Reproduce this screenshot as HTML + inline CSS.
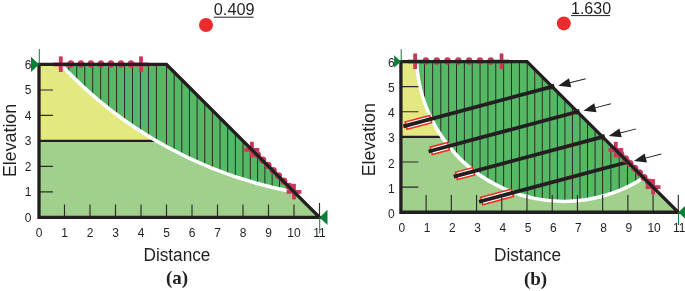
<!DOCTYPE html>
<html><head><meta charset="utf-8"><title>Slope stability</title>
<style>html,body{margin:0;padding:0;background:#fff}svg{display:block}text{font-family:"Liberation Sans",sans-serif;fill:#231f20}</style>
</head><body>
<svg width="685" height="291" viewBox="0 0 685 291">
<rect width="685" height="291" fill="#fff"/>
<g>
<polygon points="39.00,217.40 39.00,64.46 166.50,64.46 319.50,217.40" fill="#a0d08c"/>
<polygon points="39.00,140.93 39.00,64.46 166.50,64.46 243.00,140.93" fill="#e3e880"/>
<line x1="39.00" y1="140.93" x2="243.00" y2="140.93" stroke="#231f20" stroke-width="2.2"/>
<path d="M60.80,64.46 L166.50,64.46 L294.00,191.91 A422.8 422.8 0 0 1 60.80,64.46 Z" fill="#54b864"/>
<clipPath id="ca"><path d="M60.80,64.46 L166.50,64.46 L294.00,191.91 A422.8 422.8 0 0 1 60.80,64.46 Z"/></clipPath>
<path d="M68.81,62.5V217.4M76.78,62.5V217.4M84.74,62.5V217.4M92.70,62.5V217.4M100.66,62.5V217.4M108.62,62.5V217.4M116.59,62.5V217.4M124.55,62.5V217.4M132.51,62.5V217.4M140.48,62.5V217.4M148.44,62.5V217.4M156.40,62.5V217.4M166.50,62.5V217.4M174.15,62.5V217.4M181.80,62.5V217.4M189.45,62.5V217.4M197.10,62.5V217.4M204.75,62.5V217.4M212.40,62.5V217.4M220.05,62.5V217.4M227.70,62.5V217.4M235.35,62.5V217.4M243.00,62.5V217.4M250.29,62.5V217.4M257.57,62.5V217.4M264.86,62.5V217.4M272.14,62.5V217.4M279.43,62.5V217.4M286.71,62.5V217.4M294.00,62.5V217.4" stroke="#2b2b2b" stroke-width="1" fill="none" clip-path="url(#ca)"/>
<path d="M294.00,191.91 A422.8 422.8 0 0 1 60.80,64.46" stroke="#fff" stroke-width="3.5" fill="none"/>
<rect x="58.90" y="56.36" width="3.8" height="15.6" fill="#cd3659"/><rect x="53.40" y="62.56" width="14.8" height="3.8" fill="#cd3659"/>
<ellipse cx="70.83" cy="63.96" rx="3.4" ry="3.8" fill="#cd3659"/>
<ellipse cx="80.85" cy="63.96" rx="3.4" ry="3.8" fill="#cd3659"/>
<ellipse cx="90.88" cy="63.96" rx="3.4" ry="3.8" fill="#cd3659"/>
<ellipse cx="100.90" cy="63.96" rx="3.4" ry="3.8" fill="#cd3659"/>
<ellipse cx="110.93" cy="63.96" rx="3.4" ry="3.8" fill="#cd3659"/>
<ellipse cx="120.95" cy="63.96" rx="3.4" ry="3.8" fill="#cd3659"/>
<ellipse cx="130.98" cy="63.96" rx="3.4" ry="3.8" fill="#cd3659"/>
<rect x="139.10" y="56.36" width="3.8" height="15.6" fill="#cd3659"/><rect x="133.60" y="62.56" width="14.8" height="3.8" fill="#cd3659"/>
<rect x="250.02" y="141.75" width="3.8" height="15.6" fill="#cd3659"/><rect x="244.52" y="147.95" width="14.8" height="3.8" fill="#cd3659"/>
<circle cx="257.48" cy="154.81" r="3.6" fill="#cd3659"/>
<circle cx="262.74" cy="160.07" r="3.6" fill="#cd3659"/>
<circle cx="268.00" cy="165.32" r="3.6" fill="#cd3659"/>
<circle cx="273.26" cy="170.58" r="3.6" fill="#cd3659"/>
<circle cx="278.52" cy="175.84" r="3.6" fill="#cd3659"/>
<circle cx="283.78" cy="181.10" r="3.6" fill="#cd3659"/>
<circle cx="289.04" cy="186.35" r="3.6" fill="#cd3659"/>
<rect x="292.10" y="183.81" width="3.8" height="15.6" fill="#cd3659"/><rect x="286.60" y="190.01" width="14.8" height="3.8" fill="#cd3659"/>
<path d="M64.50,217.40v-13M90.00,217.40v-13M115.50,217.40v-13M141.00,217.40v-13M166.50,217.40v-13M192.00,217.40v-13M217.50,217.40v-13M243.00,217.40v-13M268.50,217.40v-13M294.00,217.40v-13M319.50,217.40v-14.5M39.00,191.91h14M39.00,166.42h14M39.00,115.44h14M39.00,89.95h14" stroke="#2b2b2b" stroke-width="1.15" fill="none"/>
<path d="M319.50,217.40 L39.00,217.40 L39.00,64.46 L166.50,64.46 Z" stroke="#231f20" stroke-width="3.3" fill="none" stroke-linejoin="miter"/>
<line x1="39.30" y1="48.96" x2="39.30" y2="64.46" stroke="#0a8037" stroke-width="1"/>
<polygon points="39.00,64.46 31.00,56.86 31.00,72.06" fill="#0a8037"/>
<line x1="319.70" y1="217.40" x2="319.70" y2="233.40" stroke="#0a8037" stroke-width="1"/>
<polygon points="319.50,217.40 327.50,209.80 327.50,225.00" fill="#0a8037"/>
<text x="39.00" y="236.70" font-size="12" text-anchor="middle">0</text>
<text x="64.50" y="236.70" font-size="12" text-anchor="middle">1</text>
<text x="90.00" y="236.70" font-size="12" text-anchor="middle">2</text>
<text x="115.50" y="236.70" font-size="12" text-anchor="middle">3</text>
<text x="141.00" y="236.70" font-size="12" text-anchor="middle">4</text>
<text x="166.50" y="236.70" font-size="12" text-anchor="middle">5</text>
<text x="192.00" y="236.70" font-size="12" text-anchor="middle">6</text>
<text x="217.50" y="236.70" font-size="12" text-anchor="middle">7</text>
<text x="243.00" y="236.70" font-size="12" text-anchor="middle">8</text>
<text x="268.50" y="236.70" font-size="12" text-anchor="middle">9</text>
<text x="294.00" y="236.70" font-size="12" text-anchor="middle">10</text>
<text x="319.50" y="236.70" font-size="12" text-anchor="middle">11</text>
<text x="31.50" y="221.80" font-size="12" text-anchor="end">0</text>
<text x="31.50" y="196.31" font-size="12" text-anchor="end">1</text>
<text x="31.50" y="170.82" font-size="12" text-anchor="end">2</text>
<text x="31.50" y="145.33" font-size="12" text-anchor="end">3</text>
<text x="31.50" y="119.84" font-size="12" text-anchor="end">4</text>
<text x="31.50" y="94.35" font-size="12" text-anchor="end">5</text>
<text x="31.50" y="68.86" font-size="12" text-anchor="end">6</text>
<text x="176.96" y="260.5" font-size="17.6" text-anchor="middle" textLength="67" lengthAdjust="spacingAndGlyphs">Distance</text>
<text transform="translate(16,140.43) rotate(-90)" font-size="17.8" text-anchor="middle">Elevation</text>
<text x="177" y="284" font-size="19" font-weight="bold" text-anchor="middle" style="font-family:'Liberation Serif',serif">(a)</text>
<circle cx="206" cy="25" r="7" fill="#ea2a2d"/>
<text x="213.8" y="14.7" font-size="16.3">0.409</text>
<line x1="213.8" y1="17.2" x2="253.60000000000002" y2="17.2" stroke="#231f20" stroke-width="1"/>
</g>
<g>
<polygon points="400.90,212.25 400.90,61.53 527.00,61.53 678.32,212.25" fill="#a0d08c"/>
<polygon points="400.90,136.89 400.90,61.53 527.00,61.53 602.66,136.89" fill="#e3e880"/>
<line x1="400.90" y1="136.89" x2="602.66" y2="136.89" stroke="#231f20" stroke-width="2.2"/>
<path d="M416.54,61.53 L527.00,61.53 L643.77,177.84 A147.5 147.5 0 0 1 416.54,61.53 Z" fill="#54b864"/>
<clipPath id="cb"><path d="M416.54,61.53 L527.00,61.53 L643.77,177.84 A147.5 147.5 0 0 1 416.54,61.53 Z"/></clipPath>
<path d="M424.53,59.5V212.2M432.67,59.5V212.2M440.80,59.5V212.2M448.65,59.5V212.2M456.51,59.5V212.2M464.36,59.5V212.2M472.22,59.5V212.2M480.07,59.5V212.2M487.93,59.5V212.2M495.78,59.5V212.2M503.64,59.5V212.2M511.49,59.5V212.2M519.35,59.5V212.2M527.20,59.5V212.2M534.74,59.5V212.2M542.28,59.5V212.2M549.82,59.5V212.2M557.36,59.5V212.2M564.90,59.5V212.2M572.44,59.5V212.2M579.98,59.5V212.2M587.52,59.5V212.2M595.06,59.5V212.2M602.60,59.5V212.2M610.88,59.5V212.2M619.16,59.5V212.2M627.44,59.5V212.2M635.72,59.5V212.2M644.00,59.5V212.2" stroke="#2b2b2b" stroke-width="1" fill="none" clip-path="url(#cb)"/>
<path d="M643.77,177.84 A147.5 147.5 0 0 1 416.54,61.53" stroke="#fff" stroke-width="3.5" fill="none"/>
<g transform="translate(406.06,125.66) rotate(-14.94)">
<rect x="0" y="-3.8" width="25.5" height="7.6" fill="#fff" stroke="#ee3124" stroke-width="1.6"/>
<line x1="-2.8" y1="0" x2="151.28" y2="0" stroke="#231f20" stroke-width="3.7"/>
<rect x="149.08" y="-2.3" width="4.4" height="4.6" fill="#231f20"/>
</g>
<g transform="translate(558.22,85.75) rotate(-14.48)">
<line x1="8" y1="0" x2="28.4" y2="0" stroke="#231f20" stroke-width="1"/>
<polygon points="0,0 12.3,-4.6 12.3,4.6" fill="#231f20"/>
</g>
<g transform="translate(431.28,150.78) rotate(-14.94)">
<rect x="0" y="-3.8" width="17.8" height="7.6" fill="#fff" stroke="#ee3124" stroke-width="1.6"/>
<line x1="-2.8" y1="0" x2="151.28" y2="0" stroke="#231f20" stroke-width="3.7"/>
<rect x="149.08" y="-2.3" width="4.4" height="4.6" fill="#231f20"/>
</g>
<g transform="translate(583.44,110.87) rotate(-14.48)">
<line x1="8" y1="0" x2="28.4" y2="0" stroke="#231f20" stroke-width="1"/>
<polygon points="0,0 12.3,-4.6 12.3,4.6" fill="#231f20"/>
</g>
<g transform="translate(456.50,175.90) rotate(-14.94)">
<rect x="0" y="-3.8" width="17.8" height="7.6" fill="#fff" stroke="#ee3124" stroke-width="1.6"/>
<line x1="-2.8" y1="0" x2="151.28" y2="0" stroke="#231f20" stroke-width="3.7"/>
<rect x="149.08" y="-2.3" width="4.4" height="4.6" fill="#231f20"/>
</g>
<g transform="translate(608.66,135.99) rotate(-14.48)">
<line x1="8" y1="0" x2="28.4" y2="0" stroke="#231f20" stroke-width="1"/>
<polygon points="0,0 12.3,-4.6 12.3,4.6" fill="#231f20"/>
</g>
<g transform="translate(481.72,201.02) rotate(-14.94)">
<rect x="0" y="-3.8" width="31.8" height="7.6" fill="#fff" stroke="#ee3124" stroke-width="1.6"/>
<line x1="-2.8" y1="0" x2="151.28" y2="0" stroke="#231f20" stroke-width="3.7"/>
<rect x="149.08" y="-2.3" width="4.4" height="4.6" fill="#231f20"/>
</g>
<g transform="translate(633.88,161.11) rotate(-14.48)">
<line x1="8" y1="0" x2="28.4" y2="0" stroke="#231f20" stroke-width="1"/>
<polygon points="0,0 12.3,-4.6 12.3,4.6" fill="#231f20"/>
</g>
<rect x="413.25" y="53.43" width="3.8" height="15.6" fill="#cd3659"/><rect x="407.75" y="59.63" width="14.8" height="3.8" fill="#cd3659"/>
<ellipse cx="425.95" cy="61.03" rx="3.4" ry="3.8" fill="#cd3659"/>
<ellipse cx="436.74" cy="61.03" rx="3.4" ry="3.8" fill="#cd3659"/>
<ellipse cx="447.54" cy="61.03" rx="3.4" ry="3.8" fill="#cd3659"/>
<ellipse cx="458.34" cy="61.03" rx="3.4" ry="3.8" fill="#cd3659"/>
<ellipse cx="469.14" cy="61.03" rx="3.4" ry="3.8" fill="#cd3659"/>
<ellipse cx="479.93" cy="61.03" rx="3.4" ry="3.8" fill="#cd3659"/>
<ellipse cx="490.73" cy="61.03" rx="3.4" ry="3.8" fill="#cd3659"/>
<rect x="499.63" y="53.43" width="3.8" height="15.6" fill="#cd3659"/><rect x="494.13" y="59.63" width="14.8" height="3.8" fill="#cd3659"/>
<rect x="613.87" y="141.85" width="3.8" height="15.6" fill="#cd3659"/><rect x="608.37" y="148.05" width="14.8" height="3.8" fill="#cd3659"/>
<circle cx="620.74" cy="154.30" r="3.6" fill="#cd3659"/>
<circle cx="625.41" cy="158.95" r="3.6" fill="#cd3659"/>
<circle cx="630.07" cy="163.59" r="3.6" fill="#cd3659"/>
<circle cx="634.74" cy="168.24" r="3.6" fill="#cd3659"/>
<circle cx="639.40" cy="172.89" r="3.6" fill="#cd3659"/>
<circle cx="644.07" cy="177.54" r="3.6" fill="#cd3659"/>
<circle cx="648.73" cy="182.18" r="3.6" fill="#cd3659"/>
<rect x="651.20" y="179.03" width="3.8" height="15.6" fill="#cd3659"/><rect x="645.70" y="185.23" width="14.8" height="3.8" fill="#cd3659"/>
<path d="M426.12,212.25v-17.3M451.34,212.25v-17.3M476.56,212.25v-17.3M501.78,212.25v-17.3M527.00,212.25v-17.3M552.22,212.25v-17.3M577.44,212.25v-17.3M602.66,212.25v-17.3M627.88,212.25v-17.3M653.10,212.25v-17.3M678.32,212.25v-17.5M400.90,187.13h17.5M400.90,162.01h17.5M400.90,111.77h17.5M400.90,86.65h17.5" stroke="#2b2b2b" stroke-width="1.15" fill="none"/>
<path d="M678.32,212.25 L400.90,212.25 L400.90,61.53 L527.00,61.53 Z" stroke="#231f20" stroke-width="3.3" fill="none" stroke-linejoin="miter"/>
<line x1="401.20" y1="49.23" x2="401.20" y2="61.53" stroke="#0a8037" stroke-width="1"/>
<polygon points="400.90,61.53 394.10,55.23 394.10,67.83" fill="#0a8037"/>
<line x1="678.52" y1="212.25" x2="678.52" y2="225.05" stroke="#0a8037" stroke-width="1"/>
<polygon points="678.32,212.25 685.12,205.95 685.12,218.55" fill="#0a8037"/>
<text x="401.90" y="231.55" font-size="12" text-anchor="middle">0</text>
<text x="427.12" y="231.55" font-size="12" text-anchor="middle">1</text>
<text x="452.34" y="231.55" font-size="12" text-anchor="middle">2</text>
<text x="477.56" y="231.55" font-size="12" text-anchor="middle">3</text>
<text x="502.78" y="231.55" font-size="12" text-anchor="middle">4</text>
<text x="528.00" y="231.55" font-size="12" text-anchor="middle">5</text>
<text x="553.22" y="231.55" font-size="12" text-anchor="middle">6</text>
<text x="578.44" y="231.55" font-size="12" text-anchor="middle">7</text>
<text x="603.66" y="231.55" font-size="12" text-anchor="middle">8</text>
<text x="628.88" y="231.55" font-size="12" text-anchor="middle">9</text>
<text x="654.10" y="231.55" font-size="12" text-anchor="middle">10</text>
<text x="679.32" y="231.55" font-size="12" text-anchor="middle">11</text>
<text x="394.60" y="217.85" font-size="12" text-anchor="end">0</text>
<text x="394.60" y="192.73" font-size="12" text-anchor="end">1</text>
<text x="394.60" y="167.61" font-size="12" text-anchor="end">2</text>
<text x="394.60" y="142.49" font-size="12" text-anchor="end">3</text>
<text x="394.60" y="117.37" font-size="12" text-anchor="end">4</text>
<text x="394.60" y="92.25" font-size="12" text-anchor="end">5</text>
<text x="394.60" y="67.13" font-size="12" text-anchor="end">6</text>
<text x="527.50" y="260.5" font-size="17.6" text-anchor="middle" textLength="67" lengthAdjust="spacingAndGlyphs">Distance</text>
<text transform="translate(375,139.69) rotate(-90)" font-size="17.8" text-anchor="middle">Elevation</text>
<text x="535.6" y="285.2" font-size="19" font-weight="bold" text-anchor="middle" style="font-family:'Liberation Serif',serif">(b)</text>
<circle cx="563.8" cy="23.4" r="7" fill="#ea2a2d"/>
<text x="571.0" y="13.6" font-size="16">1.630</text>
<line x1="571.0" y1="15.6" x2="610.0" y2="15.6" stroke="#231f20" stroke-width="1"/>
</g>
</svg>
</body></html>
